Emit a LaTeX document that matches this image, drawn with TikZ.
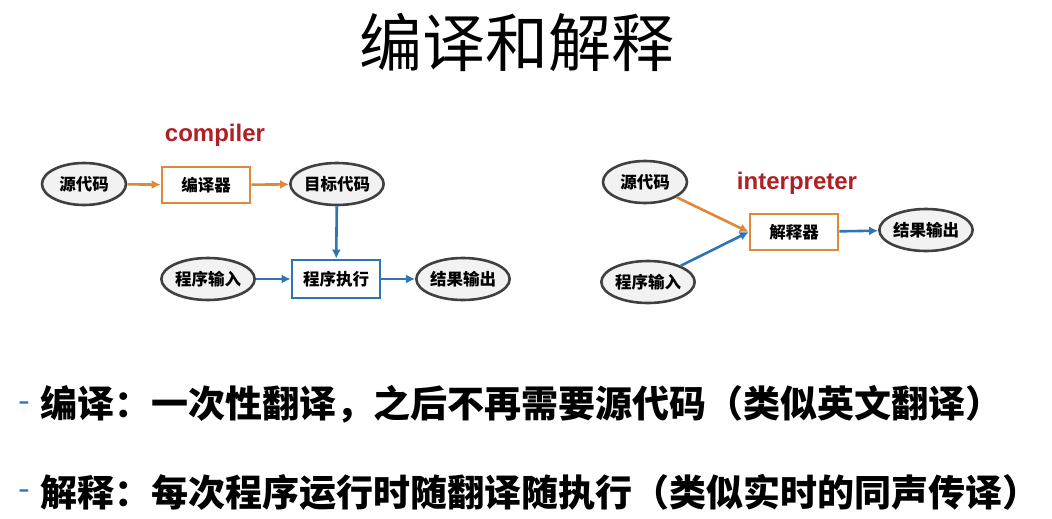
\documentclass[tikz,border=0pt]{standalone}
\usepackage{fontspec}
\setmainfont{Noto Sans CJK SC}
\newfontfamily\latsans{Liberation Sans}
\usetikzlibrary{shapes.geometric,arrows.meta}
\definecolor{ored}{HTML}{B01F24}
\definecolor{oorg}{HTML}{E0883A}
\definecolor{oblue}{HTML}{2E75B6}
\tikzset{
 ell/.style={ellipse,draw=black!75,line width=2.6pt,fill=black!5,minimum width=84pt,minimum height=42pt,inner sep=0pt,font=\fontsize{16.5}{16.5}\selectfont\bfseries},
 obox/.style={rectangle,draw=oorg,line width=2.6pt,minimum width=88pt,minimum height=36pt,font=\fontsize{16.5}{16.5}\selectfont\bfseries},
 bbox/.style={rectangle,draw=oblue,line width=2.8pt,minimum width=88pt,minimum height=38pt,font=\fontsize{16.5}{16.5}\selectfont\bfseries},
 oarr/.style={draw=oorg,line width=2.6pt,-{Latex[length=9pt,width=9pt]}},
 barr/.style={draw=oblue,line width=2.6pt,-{Latex[length=9pt,width=9pt]}},
 lab/.style={text=ored,font=\latsans\fontsize{24}{24}\selectfont\bfseries},
 bul/.style={anchor=west,font=\fontsize{37}{37}\selectfont\bfseries},
 dsh/.style={text=oblue,font=\fontsize{34}{34}\selectfont},
}
\begin{document}
\begin{tikzpicture}[x=1pt,y=-1pt]
\useasboundingbox[fill=white] (0,0) rectangle (1052,519);
\node (title) at (517,42) {\fontsize{63}{63}\selectfont 编译和解释};
\node[lab] (comp) at (215,135) {compiler};
\node[ell] (src1) at (84,184) {源代码};
\node[obox] (cmp) at (206,185) {编译器};
\node[ell] (tgt) at (337,184) {目标代码};
\node[bbox] (run) at (336,279) {程序执行};
\node[ell] (in1) at (208,279) {程序输入};
\node[ell] (out1) at (463,279) {结果输出};
\draw[oarr] (src1) -- (cmp);
\draw[oarr] (cmp) -- (tgt);
\draw[barr] (tgt) -- (run);
\draw[barr] (in1) -- (run);
\draw[barr] (run) -- (out1);
\node[lab] (intp) at (797,183) {interpreter};
\node[ell] (src2) at (645,182) {源代码};
\node[ell] (in2) at (648,282) {程序输入};
\node[obox] (itp) at (794,232) {解释器};
\node[ell] (out2) at (926,230) {结果输出};
\draw[oarr] (src2) -- (itp.west);
\draw[barr] (in2) -- (itp.west);
\draw[barr] (itp) -- (out2);
\node[dsh] (d1) at (24,407) {-};
\node[bul] (t1) at (37,404) {编译：一次性翻译，之后不再需要源代码（类似英文翻译）};
\node[dsh] (d2) at (24,495) {-};
\node[bul] (t2) at (37,492) {解释：每次程序运行时随翻译随执行（类似实时的同声传译）};
\end{tikzpicture}
\end{document}
